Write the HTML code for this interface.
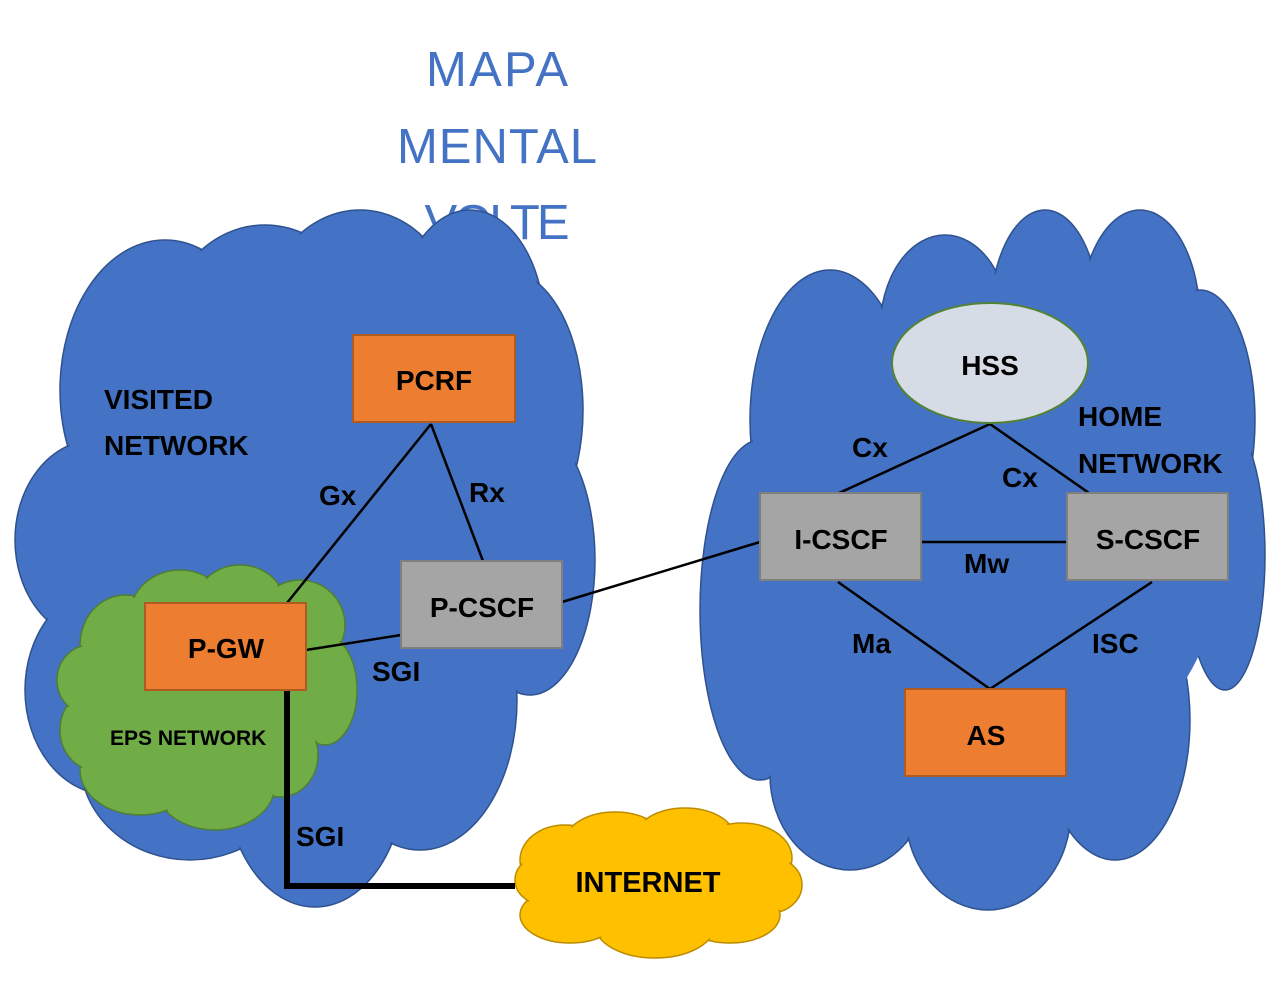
<!DOCTYPE html>
<html><head><meta charset="utf-8"><style>
html,body{margin:0;padding:0;background:#fff;}
svg{display:block;}
text{font-family:"Liberation Sans",sans-serif;}
.b{font-weight:bold;font-size:28px;fill:#000;}
</style></head><body>
<svg width="1280" height="989" viewBox="0 0 1280 989" xmlns="http://www.w3.org/2000/svg">
<g fill="#4472C4" font-size="49">
<text x="497" y="86" text-anchor="middle" textLength="142">MAPA</text>
<text x="497" y="163" text-anchor="middle" textLength="200">MENTAL</text>
<text x="497" y="239" text-anchor="middle" textLength="145">VOLTE</text>
</g>
<!-- left blue cloud -->
<g fill="#4472C4" stroke="#2F528F" stroke-width="1.5">
<ellipse cx="165" cy="390" rx="105" ry="150"/>
<ellipse cx="265" cy="335" rx="100" ry="110"/>
<ellipse cx="360" cy="330" rx="100" ry="120"/>
<ellipse cx="470" cy="330" rx="75" ry="120"/>
<ellipse cx="505" cy="410" rx="78" ry="140"/>
<ellipse cx="530" cy="560" rx="65" ry="135"/>
<ellipse cx="95" cy="540" rx="80" ry="100"/>
<ellipse cx="110" cy="690" rx="85" ry="105"/>
<ellipse cx="190" cy="760" rx="110" ry="100"/>
<ellipse cx="315" cy="775" rx="90" ry="132"/>
<ellipse cx="420" cy="700" rx="97" ry="150"/>
</g>
<g fill="#4472C4">
<ellipse cx="165" cy="390" rx="103" ry="148"/>
<ellipse cx="265" cy="335" rx="98" ry="108"/>
<ellipse cx="360" cy="330" rx="98" ry="118"/>
<ellipse cx="470" cy="330" rx="73" ry="118"/>
<ellipse cx="505" cy="410" rx="76" ry="138"/>
<ellipse cx="530" cy="560" rx="63" ry="133"/>
<ellipse cx="95" cy="540" rx="78" ry="98"/>
<ellipse cx="110" cy="690" rx="83" ry="103"/>
<ellipse cx="190" cy="760" rx="108" ry="98"/>
<ellipse cx="315" cy="775" rx="88" ry="130"/>
<ellipse cx="420" cy="700" rx="95" ry="148"/>
<ellipse cx="300" cy="550" rx="240" ry="230"/>
</g>
<!-- right blue cloud -->
<g fill="#4472C4" stroke="#2F528F" stroke-width="1.5">
<ellipse cx="830" cy="420" rx="80" ry="150"/>
<ellipse cx="945" cy="330" rx="65" ry="95"/>
<ellipse cx="1045" cy="320" rx="55" ry="110"/>
<ellipse cx="1140" cy="320" rx="60" ry="110"/>
<ellipse cx="1200" cy="420" rx="55" ry="130"/>
<ellipse cx="1225" cy="555" rx="40" ry="135"/>
<ellipse cx="760" cy="610" rx="60" ry="170"/>
<ellipse cx="850" cy="775" rx="80" ry="95"/>
<ellipse cx="988" cy="810" rx="83" ry="100"/>
<ellipse cx="1115" cy="720" rx="75" ry="140"/>
</g>
<g fill="#4472C4">
<ellipse cx="830" cy="420" rx="78" ry="148"/>
<ellipse cx="945" cy="330" rx="63" ry="93"/>
<ellipse cx="1045" cy="320" rx="53" ry="108"/>
<ellipse cx="1140" cy="320" rx="58" ry="108"/>
<ellipse cx="1200" cy="420" rx="53" ry="128"/>
<ellipse cx="1225" cy="555" rx="38" ry="133"/>
<ellipse cx="760" cy="610" rx="58" ry="168"/>
<ellipse cx="850" cy="775" rx="78" ry="93"/>
<ellipse cx="988" cy="810" rx="81" ry="98"/>
<ellipse cx="1115" cy="720" rx="73" ry="138"/>
<ellipse cx="985" cy="560" rx="235" ry="230"/>
<ellipse cx="830" cy="680" rx="70" ry="90"/>
</g>
<!-- green cloud -->
<g fill="#70AD47" stroke="#507E32" stroke-width="1.5">
<ellipse cx="125" cy="645" rx="45" ry="50"/>
<ellipse cx="180" cy="615" rx="50" ry="45"/>
<ellipse cx="240" cy="605" rx="45" ry="40"/>
<ellipse cx="300" cy="625" rx="45" ry="45"/>
<ellipse cx="325" cy="690" rx="32" ry="55"/>
<ellipse cx="280" cy="755" rx="38" ry="42"/>
<ellipse cx="215" cy="785" rx="60" ry="45"/>
<ellipse cx="140" cy="770" rx="60" ry="45"/>
<ellipse cx="95" cy="730" rx="35" ry="40"/>
<ellipse cx="90" cy="680" rx="33" ry="35"/>
</g>
<g fill="#70AD47">
<ellipse cx="125" cy="645" rx="43" ry="48"/>
<ellipse cx="180" cy="615" rx="48" ry="43"/>
<ellipse cx="240" cy="605" rx="43" ry="38"/>
<ellipse cx="300" cy="625" rx="43" ry="43"/>
<ellipse cx="325" cy="690" rx="30" ry="53"/>
<ellipse cx="280" cy="755" rx="36" ry="40"/>
<ellipse cx="215" cy="785" rx="58" ry="43"/>
<ellipse cx="140" cy="770" rx="58" ry="43"/>
<ellipse cx="95" cy="730" rx="33" ry="38"/>
<ellipse cx="90" cy="680" rx="31" ry="33"/>
<ellipse cx="205" cy="700" rx="115" ry="85"/>
</g>
<!-- yellow cloud -->
<g fill="#FFC000" stroke="#BC8C00" stroke-width="1.5">
<ellipse cx="565" cy="860" rx="45" ry="35"/>
<ellipse cx="615" cy="842" rx="50" ry="30"/>
<ellipse cx="685" cy="838" rx="50" ry="30"/>
<ellipse cx="742" cy="858" rx="50" ry="35"/>
<ellipse cx="770" cy="885" rx="32" ry="28"/>
<ellipse cx="730" cy="915" rx="50" ry="28"/>
<ellipse cx="655" cy="925" rx="60" ry="33"/>
<ellipse cx="570" cy="915" rx="50" ry="28"/>
<ellipse cx="545" cy="880" rx="30" ry="25"/>
</g>
<g fill="#FFC000">
<ellipse cx="565" cy="860" rx="43" ry="33"/>
<ellipse cx="615" cy="842" rx="48" ry="28"/>
<ellipse cx="685" cy="838" rx="48" ry="28"/>
<ellipse cx="742" cy="858" rx="48" ry="33"/>
<ellipse cx="770" cy="885" rx="30" ry="26"/>
<ellipse cx="730" cy="915" rx="48" ry="26"/>
<ellipse cx="655" cy="925" rx="58" ry="31"/>
<ellipse cx="570" cy="915" rx="48" ry="26"/>
<ellipse cx="545" cy="880" rx="28" ry="23"/>
<ellipse cx="655" cy="880" rx="110" ry="45"/>
</g>
<!-- connectors -->
<g stroke="#000" stroke-width="2.5" fill="none">
<line x1="431" y1="424" x2="287" y2="603"/>
<line x1="431" y1="424" x2="483" y2="561"/>
<line x1="306" y1="650" x2="401" y2="635"/>
<line x1="562" y1="602" x2="760" y2="542"/>
<line x1="990" y1="424" x2="839" y2="493"/>
<line x1="990" y1="424" x2="1089" y2="493"/>
<line x1="921" y1="542" x2="1067" y2="542"/>
<polyline points="838,582 990,689 1152,582"/>
</g>
<polyline points="287,690 287,886 515,886" stroke="#000" stroke-width="6" fill="none"/>
<!-- nodes -->
<g stroke-width="2">
<rect x="353" y="335" width="162" height="87" fill="#ED7D31" stroke="#AE5A21"/>
<rect x="145" y="603" width="161" height="87" fill="#ED7D31" stroke="#AE5A21"/>
<rect x="905" y="689" width="161" height="87" fill="#ED7D31" stroke="#AE5A21"/>
<rect x="401" y="561" width="161" height="87" fill="#A5A5A5" stroke="#7F7F7F"/>
<rect x="760" y="493" width="161" height="87" fill="#A5A5A5" stroke="#7F7F7F"/>
<rect x="1067" y="493" width="161" height="87" fill="#A5A5A5" stroke="#7F7F7F"/>
<ellipse cx="990" cy="363" rx="98" ry="60" fill="#D6DCE5" stroke="#548235"/>
</g>
<g class="b" text-anchor="middle">
<text class="b" x="434" y="390">PCRF</text>
<text class="b" x="226" y="658">P-GW</text>
<text class="b" x="986" y="745">AS</text>
<text class="b" x="482" y="617">P-CSCF</text>
<text class="b" x="841" y="549">I-CSCF</text>
<text class="b" x="1148" y="549">S-CSCF</text>
<text class="b" x="990" y="375">HSS</text>
<text class="b" x="648" y="892" style="font-size:29px">INTERNET</text>
</g>
<g>
<text class="b" x="104" y="409">VISITED</text>
<text class="b" x="104" y="455">NETWORK</text>
<text class="b" x="319" y="505">Gx</text>
<text class="b" x="469" y="502">Rx</text>
<text class="b" x="372" y="681">SGI</text>
<text class="b" x="296" y="846">SGI</text>
<text class="b" x="110" y="745" style="font-size:21px">EPS NETWORK</text>
<text class="b" x="852" y="457">Cx</text>
<text class="b" x="1002" y="487">Cx</text>
<text class="b" x="1078" y="426">HOME</text>
<text class="b" x="1078" y="473">NETWORK</text>
<text class="b" x="964" y="573">Mw</text>
<text class="b" x="852" y="653">Ma</text>
<text class="b" x="1092" y="653">ISC</text>
</g>
</svg>
</body></html>
